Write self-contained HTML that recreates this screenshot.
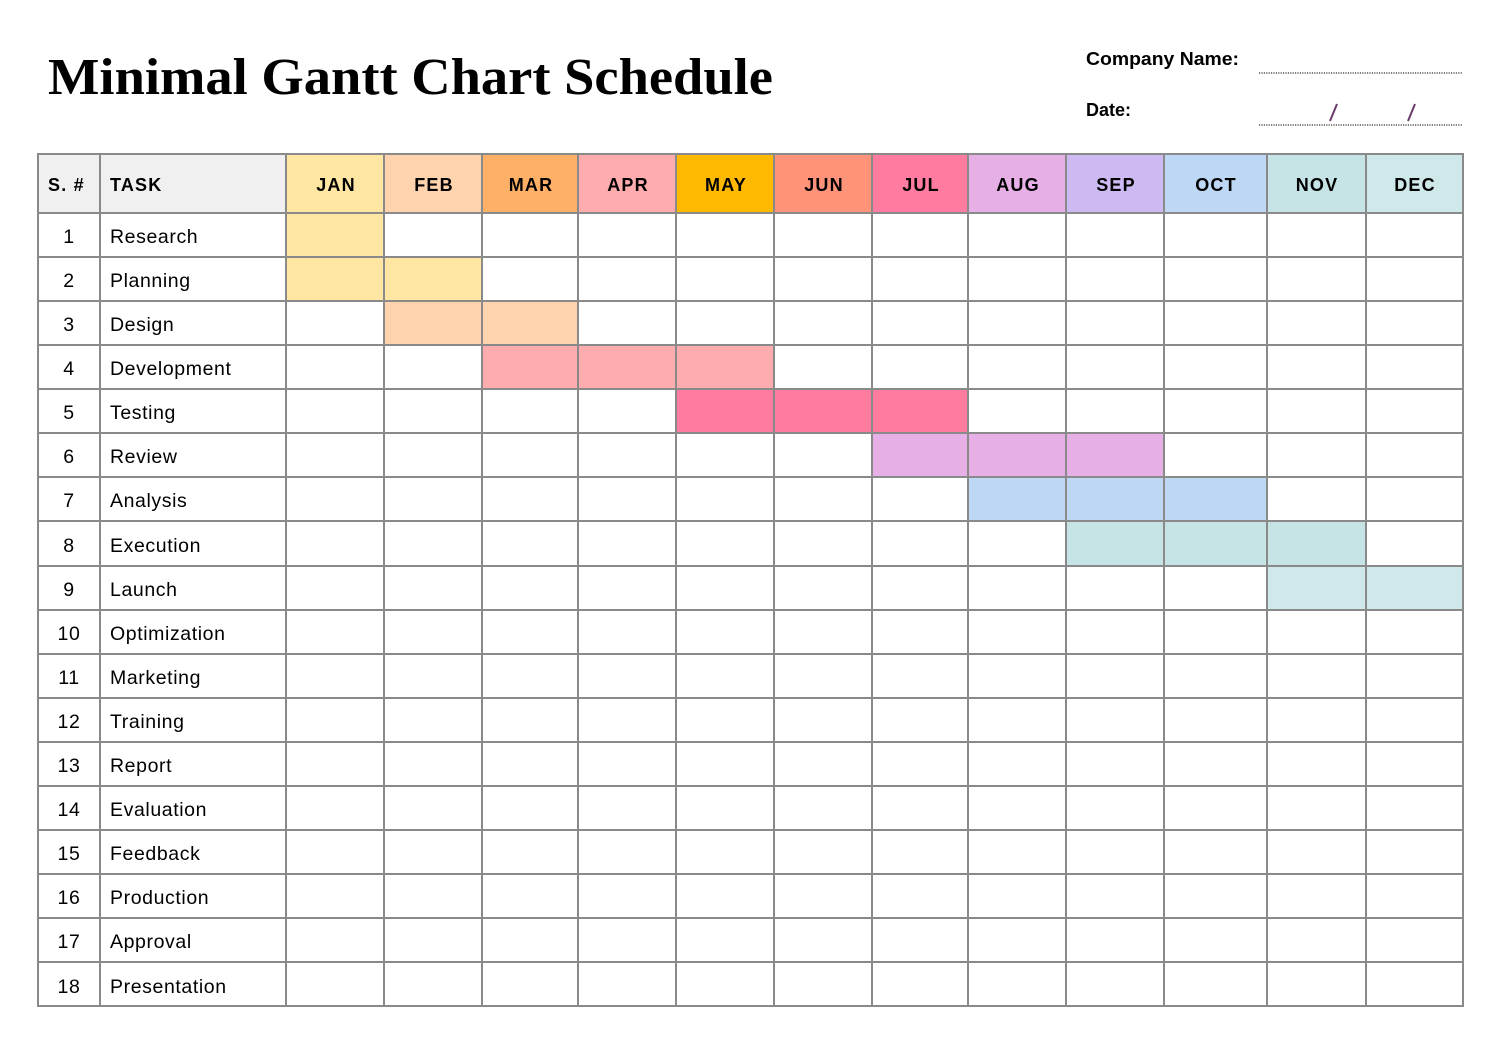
<!DOCTYPE html>
<html><head><meta charset="utf-8"><style>
html,body{margin:0;padding:0;background:#fff;}
svg{display:block;}
</style></head><body>
<svg width="1500" height="1062" viewBox="0 0 1500 1062" xmlns="http://www.w3.org/2000/svg">
<rect x="0" y="0" width="1500" height="1062" fill="#fff"/>
<text x="48" y="94" font-family="Liberation Serif, serif" font-weight="bold" font-size="52" textLength="725" lengthAdjust="spacingAndGlyphs" fill="#000">Minimal Gantt Chart Schedule</text>
<text x="1086" y="65" font-family="Liberation Sans, sans-serif" font-weight="bold" font-size="18" textLength="153" lengthAdjust="spacingAndGlyphs" fill="#000">Company Name:</text>
<text x="1086" y="116" font-family="Liberation Sans, sans-serif" font-weight="bold" font-size="18" fill="#000">Date:</text>
<line x1="1259" y1="73" x2="1462" y2="73" stroke="#333" stroke-width="1.3" stroke-dasharray="1.2 1.2"/>
<line x1="1259" y1="125" x2="1462" y2="125" stroke="#333" stroke-width="1.3" stroke-dasharray="1.2 1.2"/>
<line x1="1337" y1="104" x2="1330" y2="121" stroke="#6b3a6b" stroke-width="2"/>
<line x1="1415" y1="104" x2="1408" y2="121" stroke="#6b3a6b" stroke-width="2"/>

<!-- header fills -->
<rect x="38" y="154" width="248" height="59" fill="#f0f0f0"/>
<rect x="286" y="154" width="98" height="59" fill="#FFE6A3"/>
<rect x="384" y="154" width="98" height="59" fill="#FFD3AD"/>
<rect x="482" y="154" width="96" height="59" fill="#FFB067"/>
<rect x="578" y="154" width="98" height="59" fill="#FFACAE"/>
<rect x="676" y="154" width="98" height="59" fill="#FFB901"/>
<rect x="774" y="154" width="98" height="59" fill="#FF937A"/>
<rect x="872" y="154" width="96" height="59" fill="#FF7BA0"/>
<rect x="968" y="154" width="98" height="59" fill="#E6B0E6"/>
<rect x="1066" y="154" width="98" height="59" fill="#CEBAF2"/>
<rect x="1164" y="154" width="103" height="59" fill="#BDD7F5"/>
<rect x="1267" y="154" width="99" height="59" fill="#C6E4E5"/>
<rect x="1366" y="154" width="97" height="59" fill="#CFE8E9"/>

<!-- bars -->
<rect x="286" y="213" width="98" height="44" fill="#FFE6A3"/>
<rect x="286" y="257" width="196" height="44" fill="#FFE6A3"/>
<rect x="384" y="301" width="194" height="44" fill="#FFD3AD"/>
<rect x="482" y="345" width="292" height="44" fill="#FFACAE"/>
<rect x="676" y="389" width="292" height="44" fill="#FF7BA0"/>
<rect x="872" y="433" width="292" height="44" fill="#E6B0E6"/>
<rect x="968" y="477" width="299" height="44" fill="#BDD7F5"/>
<rect x="1066" y="521" width="300" height="45" fill="#C6E4E5"/>
<rect x="1267" y="566" width="196" height="44" fill="#CFE8E9"/>

<!-- grid -->
<g stroke="#8a8a8a" stroke-width="2" fill="none">
<rect x="38" y="154" width="1425" height="852"/>
<line x1="100" y1="154" x2="100" y2="1006"/>
<line x1="286" y1="154" x2="286" y2="1006"/>
<line x1="384" y1="154" x2="384" y2="1006"/>
<line x1="482" y1="154" x2="482" y2="1006"/>
<line x1="578" y1="154" x2="578" y2="1006"/>
<line x1="676" y1="154" x2="676" y2="1006"/>
<line x1="774" y1="154" x2="774" y2="1006"/>
<line x1="872" y1="154" x2="872" y2="1006"/>
<line x1="968" y1="154" x2="968" y2="1006"/>
<line x1="1066" y1="154" x2="1066" y2="1006"/>
<line x1="1164" y1="154" x2="1164" y2="1006"/>
<line x1="1267" y1="154" x2="1267" y2="1006"/>
<line x1="1366" y1="154" x2="1366" y2="1006"/>
<line x1="38" y1="213" x2="1463" y2="213"/>
<line x1="38" y1="257" x2="1463" y2="257"/>
<line x1="38" y1="301" x2="1463" y2="301"/>
<line x1="38" y1="345" x2="1463" y2="345"/>
<line x1="38" y1="389" x2="1463" y2="389"/>
<line x1="38" y1="433" x2="1463" y2="433"/>
<line x1="38" y1="477" x2="1463" y2="477"/>
<line x1="38" y1="521" x2="1463" y2="521"/>
<line x1="38" y1="566" x2="1463" y2="566"/>
<line x1="38" y1="610" x2="1463" y2="610"/>
<line x1="38" y1="654" x2="1463" y2="654"/>
<line x1="38" y1="698" x2="1463" y2="698"/>
<line x1="38" y1="742" x2="1463" y2="742"/>
<line x1="38" y1="786" x2="1463" y2="786"/>
<line x1="38" y1="830" x2="1463" y2="830"/>
<line x1="38" y1="874" x2="1463" y2="874"/>
<line x1="38" y1="918" x2="1463" y2="918"/>
<line x1="38" y1="962" x2="1463" y2="962"/>
</g>

<!-- header text -->
<g font-family="Liberation Sans, sans-serif" font-weight="bold" font-size="18" fill="#000" letter-spacing="1.2">
<text x="48" y="191">S. #</text>
<text x="110" y="191">TASK</text>
<g text-anchor="middle">
<text x="336" y="191">JAN</text>
<text x="434" y="191">FEB</text>
<text x="531" y="191">MAR</text>
<text x="628" y="191">APR</text>
<text x="726" y="191">MAY</text>
<text x="824" y="191">JUN</text>
<text x="921" y="191">JUL</text>
<text x="1018" y="191">AUG</text>
<text x="1116" y="191">SEP</text>
<text x="1216" y="191">OCT</text>
<text x="1317" y="191">NOV</text>
<text x="1415" y="191">DEC</text>
</g>
</g>

<!-- body text -->
<g font-family="Liberation Sans, sans-serif" font-size="19.5" fill="#000" letter-spacing="0.6">
<g text-anchor="middle">
<text x="69" y="243">1</text>
<text x="69" y="287">2</text>
<text x="69" y="331">3</text>
<text x="69" y="375">4</text>
<text x="69" y="419">5</text>
<text x="69" y="463">6</text>
<text x="69" y="507">7</text>
<text x="69" y="552">8</text>
<text x="69" y="596">9</text>
<text x="69" y="640">10</text>
<text x="69" y="684">11</text>
<text x="69" y="728">12</text>
<text x="69" y="772">13</text>
<text x="69" y="816">14</text>
<text x="69" y="860">15</text>
<text x="69" y="904">16</text>
<text x="69" y="948">17</text>
<text x="69" y="993">18</text>
</g>
<text x="110" y="243">Research</text>
<text x="110" y="287">Planning</text>
<text x="110" y="331">Design</text>
<text x="110" y="375">Development</text>
<text x="110" y="419">Testing</text>
<text x="110" y="463">Review</text>
<text x="110" y="507">Analysis</text>
<text x="110" y="552">Execution</text>
<text x="110" y="596">Launch</text>
<text x="110" y="640">Optimization</text>
<text x="110" y="684">Marketing</text>
<text x="110" y="728">Training</text>
<text x="110" y="772">Report</text>
<text x="110" y="816">Evaluation</text>
<text x="110" y="860">Feedback</text>
<text x="110" y="904">Production</text>
<text x="110" y="948">Approval</text>
<text x="110" y="993">Presentation</text>
</g>
</svg>
</body></html>
